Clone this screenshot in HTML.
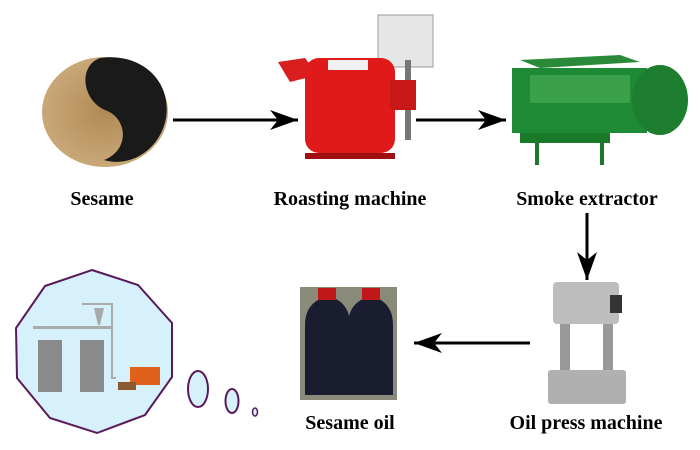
<!DOCTYPE html>
<html><head><meta charset="utf-8"><style>
html,body{margin:0;padding:0;background:#fff;width:700px;height:450px;overflow:hidden}
text{font-family:"Liberation Serif",serif;font-weight:bold;font-size:20px;fill:#000}
</style></head><body>
<svg width="700" height="450" viewBox="0 0 700 450" xmlns="http://www.w3.org/2000/svg">
<defs>
<marker id="ah" markerWidth="30" markerHeight="22" refX="28" refY="11" orient="auto" markerUnits="userSpaceOnUse">
<path d="M0,1 L28,11 L0,21 L8,11 Z" fill="#000"/></marker>
<radialGradient id="seed" cx="0.5" cy="0.5" r="0.5"><stop offset="0" stop-color="#b08a55"/><stop offset="1" stop-color="#c9a878"/></radialGradient>
</defs>
<!-- Sesame -->
<ellipse cx="105" cy="112" rx="63" ry="55" fill="url(#seed)"/>
<path d="M100,58 C140,52 172,80 166,118 C160,150 130,168 104,160 C130,150 128,118 105,110 C82,100 78,66 100,58 Z" fill="#1a1a1a"/>
<!-- Roasting machine -->
<rect x="378" y="15" width="55" height="52" fill="#e6e6e6" stroke="#999"/>
<rect x="405" y="60" width="6" height="80" fill="#777"/>
<path d="M278,62 L305,58 L318,75 L290,82 Z" fill="#d81e1e"/>
<rect x="305" y="58" width="90" height="95" rx="14" fill="#e01a1a"/>
<rect x="390" y="80" width="26" height="30" fill="#c81818"/>
<rect x="305" y="153" width="90" height="6" fill="#a01010"/>
<rect x="328" y="60" width="40" height="10" fill="#f0f0f0"/>
<!-- Smoke extractor -->
<path d="M520,60 L620,55 L640,62 L540,68 Z" fill="#2a8a3a"/>
<rect x="512" y="68" width="135" height="65" fill="#1f8a35"/>
<ellipse cx="660" cy="100" rx="28" ry="35" fill="#1e7e30"/>
<rect x="530" y="75" width="100" height="28" fill="#3aa04a"/>
<rect x="520" y="133" width="90" height="10" fill="#1a7a2a"/>
<rect x="535" y="143" width="4" height="22" fill="#1a7a2a"/><rect x="600" y="143" width="4" height="22" fill="#1a7a2a"/>
<!-- Arrows -->
<line x1="173" y1="120" x2="298" y2="120" stroke="#000" stroke-width="3" marker-end="url(#ah)"/>
<line x1="416" y1="120" x2="506" y2="120" stroke="#000" stroke-width="3" marker-end="url(#ah)"/>
<line x1="587" y1="213" x2="587" y2="280" stroke="#000" stroke-width="3" marker-end="url(#ah)"/>
<line x1="530" y1="343" x2="414" y2="343" stroke="#000" stroke-width="3" marker-end="url(#ah)"/>
<!-- Oil press -->
<rect x="553" y="282" width="66" height="42" rx="4" fill="#bdbdbd"/>
<rect x="560" y="324" width="10" height="48" fill="#999"/><rect x="603" y="324" width="10" height="48" fill="#999"/>
<rect x="548" y="370" width="78" height="34" rx="3" fill="#b0b0b0"/>
<rect x="610" y="295" width="12" height="18" fill="#333"/>
<!-- Sesame oil -->
<rect x="300" y="287" width="97" height="113" fill="#8a8a7a"/>
<path d="M305,325 Q305,305 322,298 L334,298 Q350,305 350,325 L350,395 L305,395 Z" fill="#1a1d30"/>
<path d="M348,325 Q348,305 365,298 L377,298 Q393,305 393,325 L393,395 L348,395 Z" fill="#1a1d30"/>
<rect x="318" y="288" width="18" height="12" fill="#c01818"/><rect x="362" y="288" width="18" height="12" fill="#c01818"/>
<!-- Polygon -->
<polygon points="92,270 138,285 172,323 172,377 145,415 97,433 50,418 17,378 16,328 45,286" fill="#d6f0fc" stroke="#5a1a5a" stroke-width="2"/>
<rect x="33" y="326" width="80" height="3" fill="#aaa"/>
<path d="M82,304 L112,304 L112,378 L116,378" fill="none" stroke="#aaa" stroke-width="2"/>
<path d="M94,308 L104,308 L100,325 L98,325 Z" fill="#aaa"/>
<rect x="38" y="340" width="24" height="52" fill="#8a8a8a"/><rect x="80" y="340" width="24" height="52" fill="#8a8a8a"/>
<rect x="130" y="367" width="30" height="18" fill="#e0621a"/>
<rect x="118" y="382" width="18" height="8" fill="#8a5a30"/>
<ellipse cx="198" cy="389" rx="10" ry="18" fill="#d6f0fc" stroke="#5a1a5a" stroke-width="2"/>
<ellipse cx="232" cy="401" rx="6.5" ry="12" fill="#d6f0fc" stroke="#5a1a5a" stroke-width="2"/>
<ellipse cx="255" cy="412" rx="2.5" ry="4" fill="#d6f0fc" stroke="#5a1a5a" stroke-width="1.5"/>
<!-- Labels -->
<text x="102" y="205" text-anchor="middle">Sesame</text>
<text x="350" y="205" text-anchor="middle">Roasting machine</text>
<text x="587" y="205" text-anchor="middle">Smoke extractor</text>
<text x="350" y="429" text-anchor="middle">Sesame oil</text>
<text x="586" y="429" text-anchor="middle">Oil press machine</text>
</svg>
</body></html>
